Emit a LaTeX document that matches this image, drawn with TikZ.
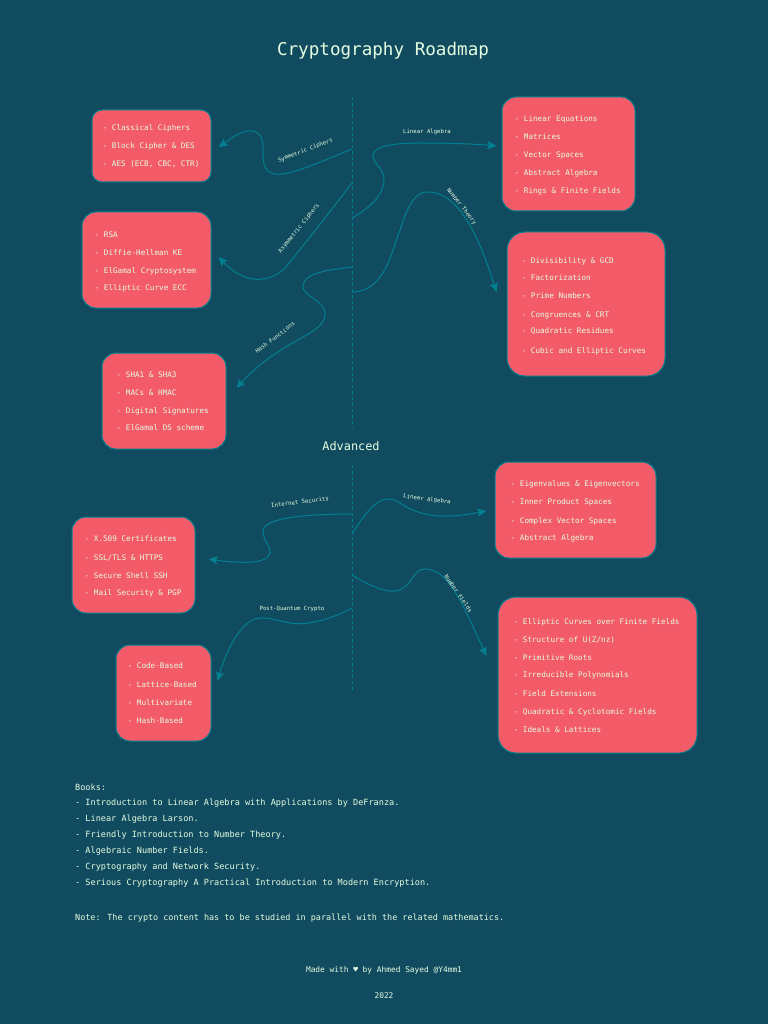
\documentclass[tikz,border=0pt]{standalone}
\usepackage{fontspec}
\setmainfont{DejaVu Sans Mono}
\usepackage{xcolor}
\usetikzlibrary{calc, arrows.meta}
\definecolor{bgblue}{HTML}{114B5F}
\definecolor{linkteal}{HTML}{028090}
\definecolor{paletext}{HTML}{E4FDE1}
\definecolor{boxred}{HTML}{F45B69}
\tikzset{
	topic/.style={draw=linkteal, fill=boxred, line width=1pt, inner sep=0pt},
	topictext/.style={text=paletext, align=left, inner sep=0pt, anchor=west,
		font=\fontsize{7.65}{18}\selectfont},
	link/.style={draw=linkteal, line width=1pt, -{Stealth[length=9pt,width=8pt,inset=1.5pt]}},
	spine/.style={draw=linkteal, line width=1pt, dash pattern=on 3pt off 3pt},
	linklabel/.style={text=paletext, inner sep=0pt, font=\fontsize{5.65}{7}\selectfont},
	plain/.style={text=paletext, inner sep=0pt, align=left}
}
\begin{document}
\begin{tikzpicture}[x=1pt,y=-1pt]
	\useasboundingbox[fill=bgblue] (0,0) rectangle (768,1024);

% headings
	\node[plain, font=\fontsize{17.6}{20}\selectfont] (title) at (383,51) {Cryptography Roadmap};
	\node[plain, font=\fontsize{11.9}{14}\selectfont] (advanced) at (351,446) {Advanced};

% dashed spine
	\coordinate (spineA) at (352,97);
	\coordinate (spineB) at (352,428);
	\coordinate (spineC) at (352,465);
	\coordinate (spineD) at (352,693);
	\draw[spine] (spineA) -- (spineB);
	\draw[spine] (spineC) -- (spineD);

% basic topics
	\node[topic, rounded corners=10pt, minimum width=119pt, minimum height=72pt] (classical) at (151.5,146) {};
	\node[topic, rounded corners=14pt, minimum width=129pt, minimum height=96pt] (public) at (146.5,260) {};
	\node[topic, rounded corners=14pt, minimum width=124pt, minimum height=96pt] (hashes) at (164,401) {};
	\node[topic, rounded corners=14pt, minimum width=133pt, minimum height=114pt] (algebra) at (568.5,154) {};
	\node[topic, rounded corners=18pt, minimum width=158pt, minimum height=144pt] (numbers) at (586,304) {};
	\node[topictext] (classicaltext) at ($(classical.west)+(11,0.5)$) {- Classical Ciphers\\- Block Cipher \& DES\\- AES (ECB, CBC, CTR)};
	\node[topictext] (publictext) at ($(public.west)+(13,1.5)$) {- RSA\\- Diffie-Hellman KE\\- ElGamal Cryptosystem\\[-1pt]- Elliptic Curve ECC};
	\node[topictext] (hashestext) at ($(hashes.west)+(15,0)$) {- SHA1 \& SHA3\\- MACs \& HMAC\\- Digital Signatures\\[-1pt]- ElGamal DS scheme};
	\node[topictext] (algebratext) at ($(algebra.west)+(13,1)$) {- Linear Equations\\- Matrices\\- Vector Spaces\\- Abstract Algebra\\- Rings \& Finite Fields};
	\node[topictext] (numberstext) at ($(numbers.west)+(15,2)$) {- Divisibility \& GCD\\[-1pt]- Factorization\\- Prime Numbers\\[1pt]- Congruences \& CRT\\[-2pt]- Quadratic Residues\\[2pt]- Cubic and Elliptic Curves};

% advanced topics
	\node[topic, rounded corners=14pt, minimum width=123pt, minimum height=96pt] (security) at (133.5,565) {};
	\node[topic, rounded corners=14pt, minimum width=95pt, minimum height=96pt] (postq) at (163.5,693) {};
	\node[topic, rounded corners=14pt, minimum width=161pt, minimum height=96pt] (eigen) at (575.5,510) {};
	\node[topic, rounded corners=18pt, minimum width=199pt, minimum height=156pt] (fields) at (597.5,675) {};
	\node[topictext] (securitytext) at ($(security.west)+(13,1)$) {- X.509 Certificates\\[1pt]- SSL/TLS \& HTTPS\\- Secure Shell SSH\\[-1pt]- Mail Security \& PGP};
	\node[topictext] (postqtext) at ($(postq.west)+(12,0)$) {- Code-Based\\[1pt]- Lattice-Based\\- Multivariate\\- Hash-Based};
	\node[topictext] (eigentext) at ($(eigen.west)+(16,1)$) {- Eigenvalues \& Eigenvectors\\- Inner Product Spaces\\[1pt]- Complex Vector Spaces\\[-1pt]- Abstract Algebra};
	\node[topictext] (fieldstext) at ($(fields.west)+(16,1)$) {- Elliptic Curves over Finite Fields\\- Structure of U(Z/nz)\\- Primitive Roots\\[-1pt]- Irreducible Polynomials\\[1pt]- Field Extensions\\- Quadratic \& Cyclotomic Fields\\- Ideals \& Lattices};

% free ends on the spine
	\coordinate (symstart) at (352,149);
	\coordinate (asymstart) at (352,183);
	\coordinate (hashstart) at (352,267);
	\coordinate (linstart) at (352,218);
	\coordinate (numstart) at (352,292);
	\coordinate (netstart) at (352,514);
	\coordinate (pqstart) at (352,608);
	\coordinate (advlinstart) at (352,534);
	\coordinate (fieldstart) at (352,575);

% connectors
	\draw[link] (symstart) .. controls (320,162) and (290,176) .. (275,174)
		.. controls (262,172) and (263,160) .. (263,147)
		.. controls (263,134) and (256,130) .. (248,131)
		.. controls (238,132) and (228,141) .. ($(classical.east)+(7,1)$);
	\draw[link] (asymstart) .. controls (325,218) and (300,250) .. (285,268)
		.. controls (270,283) and (245,285) .. ($(public.east)+(7,-3)$);
	\draw[link] (hashstart) .. controls (330,270) and (303,272) .. (303,287)
		.. controls (303,297) and (326,300) .. (325,315)
		.. controls (324,335) and (280,340) .. ($(hashes.east)+(10,-13)$);
	\draw[link] (linstart) .. controls (372,207) and (385,193) .. (384,178)
		.. controls (383,167) and (372,163) .. (373,155)
		.. controls (374,146) and (395,143) .. (420,143)
		.. controls (450,143) and (475,144) .. ($(algebra.west)+(-5,-8)$);
	\draw[link] (numstart) .. controls (385,292) and (392,250) .. (400,230)
		.. controls (408,205) and (415,192) .. (428,192)
		.. controls (460,192) and (480,240) .. ($(numbers.west)+(-10,-12)$);
	\draw[link] (netstart) .. controls (320,514) and (263,516) .. (263,531)
		.. controls (263,541) and (271,545) .. (270,553)
		.. controls (268,565) and (235,563) .. ($(security.east)+(13,-6)$);
	\draw[link] (pqstart) .. controls (330,620) and (305,626) .. (290,623)
		.. controls (275,620) and (265,616) .. (255,619)
		.. controls (238,625) and (225,655) .. ($(postq.east)+(6,-12)$);
	\draw[link] (advlinstart) .. controls (362,518) and (375,499) .. (388,499)
		.. controls (400,499) and (403,510) .. (430,515)
		.. controls (450,518) and (470,514) .. ($(eigen.west)+(-8,1)$);
	\draw[link] (fieldstart) .. controls (370,586) and (385,592) .. (395,591)
		.. controls (412,589) and (412,569) .. (425,569)
		.. controls (450,569) and (465,610) .. ($(fields.west)+(-11,-19)$);

% connector labels
	\node[linklabel, rotate=21] (symlabel) at (305.5,150.5) {Symmetric Ciphers};
	\node[linklabel, rotate=51] (asymlabel) at (299,228.5) {Asymmetric Ciphers};
	\node[linklabel, rotate=37] (hashlabel) at (275,337.5) {Hash Functions};
	\node[linklabel] (linlabel) at (427,132) {Linear Algebra};
	\node[linklabel, rotate=-52] (numlabel) at (461.5,206.5) {Number Theory};
	\node[linklabel, rotate=7] (netlabel) at (300,502.5) {Internet Security};
	\node[linklabel] (pqlabel) at (292,609) {Post-Quantum Crypto};
	\node[linklabel, rotate=-8] (advlinlabel) at (427,499.5) {Linear Algebra};
	\node[linklabel, rotate=-55] (fieldlabel) at (458.5,593.5) {Number Fields};

% footer
	\node[plain, anchor=north west, font=\fontsize{8.55}{16}\selectfont] (books) at (75,784) {%
		Books:\\[-1pt]- Introduction to Linear Algebra with Applications by DeFranza.\\- Linear Algebra Larson.\\- Friendly Introduction to Number Theory.\\- Algebraic Number Fields.\\- Cryptography and Network Security.\\- Serious Cryptography A Practical Introduction to Modern Encryption.};
	\node[plain, anchor=west, font=\fontsize{8.45}{16}\selectfont] (note) at (75,918.5) {Note: The crypto content has to be studied in parallel with the related mathematics.};
	\node[plain, font=\fontsize{7.85}{10}\selectfont] (made) at (384,970) {Made with ♥ by Ahmed Sayed @Y4mm1};
	\node[plain, font=\fontsize{7.85}{10}\selectfont] (year) at (384,996) {2022};
\end{tikzpicture}
\end{document}
